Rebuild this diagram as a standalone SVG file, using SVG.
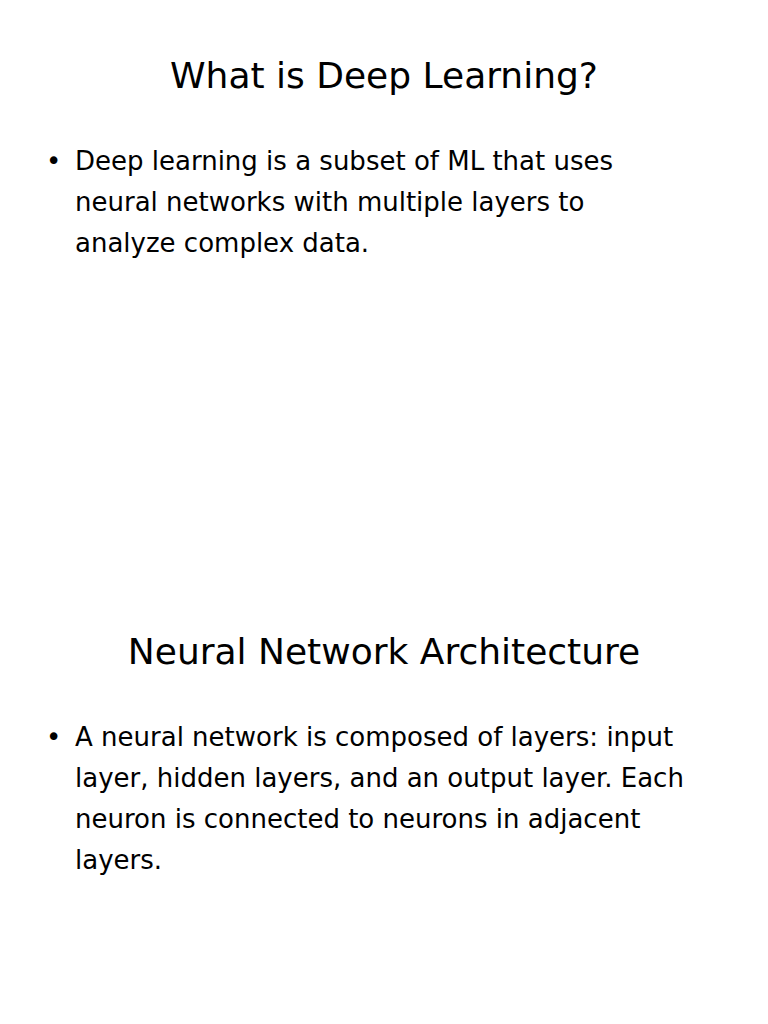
<svg xmlns="http://www.w3.org/2000/svg" width="768" height="1024" viewBox="0 0 768 1024">
<style>
.t{font-family:"DejaVu Sans",sans-serif;font-size:36px;fill:#000;text-anchor:middle}
.b{font-family:"DejaVu Sans",sans-serif;font-size:26px;fill:#000}
</style>
<rect width="768" height="1024" fill="#fff"/>
<g id="slide1">
<text class="t" x="384" y="88">What is Deep Learning?</text>
<text class="b" x="46" y="170">•</text>
<text class="b" x="75" y="170">Deep learning is a subset of ML that uses</text>
<text class="b" x="75" y="211">neural networks with multiple layers to</text>
<text class="b" x="75" y="252">analyze complex data.</text>
</g>
<g id="slide2">
<text class="t" x="384" y="664">Neural Network Architecture</text>
<text class="b" x="46" y="746">•</text>
<text class="b" x="75" y="746">A neural network is composed of layers: input</text>
<text class="b" x="75" y="787">layer, hidden layers, and an output layer. Each</text>
<text class="b" x="75" y="828">neuron is connected to neurons in adjacent</text>
<text class="b" x="75" y="869">layers.</text>
</g>
</svg>
